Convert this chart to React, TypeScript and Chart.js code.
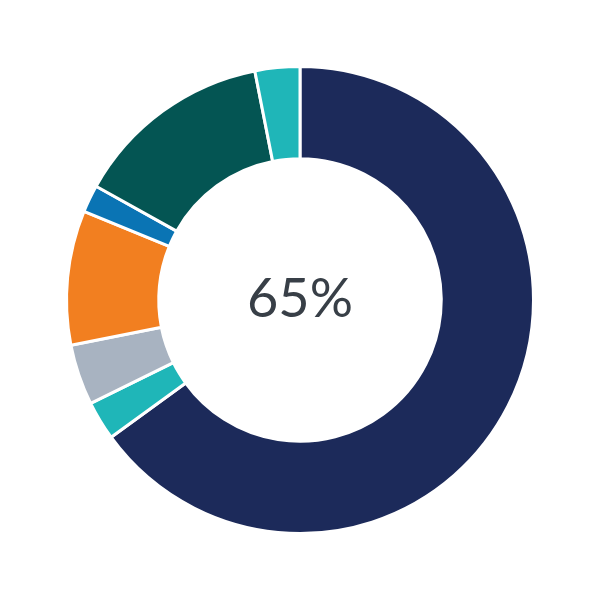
import React, { useEffect, useRef } from "react";
import { Chart, registerables } from "chart.js";

Chart.register(...registerables);

const labels = ["Navy", "Teal A", "Gray", "Orange", "Blue", "Dark teal", "Teal B"];
const values = [65.0, 2.7, 4.2, 9.3, 1.9, 13.8, 3.1];
const colors = ["#1c2a5a", "#1fb6b8", "#a8b3c1", "#f27f20", "#0a74b4", "#045553", "#1fb6b8"];
const centerLabel = "65%";

export default function App() {
  const ref = useRef<HTMLCanvasElement | null>(null);
  useEffect(() => {
    if (!ref.current) return;
    const chart = new Chart(ref.current, {
      type: "doughnut",
      data: {
        labels,
        datasets: [
          {
            data: values,
            backgroundColor: colors,
            borderColor: "#ffffff",
            borderWidth: 3,
          },
        ],
      },
      options: {
        responsive: false,
        animation: false,
        cutout: "60.5%",
        layout: { padding: 65 },
        plugins: { legend: { display: false }, tooltip: { enabled: false } },
      },
    });
    return () => chart.destroy();
  }, []);
  return (
    <div style={{ position: "fixed", left: 0, top: 0, width: 600, height: 600, background: "#fff" }}>
      <canvas ref={ref} width={600} height={600} style={{ width: 600, height: 600 }} />
      <div
        style={{
          position: "absolute",
          left: 0,
          top: -4,
          width: 600,
          height: 600,
          display: "flex",
          alignItems: "center",
          justifyContent: "center",
          fontFamily: "Lato, 'Open Sans', sans-serif",
          fontWeight: 400,
          fontSize: 54,
          color: "#383f47",
          pointerEvents: "none",
        }}
      >
        {centerLabel}
      </div>
    </div>
  );
}
